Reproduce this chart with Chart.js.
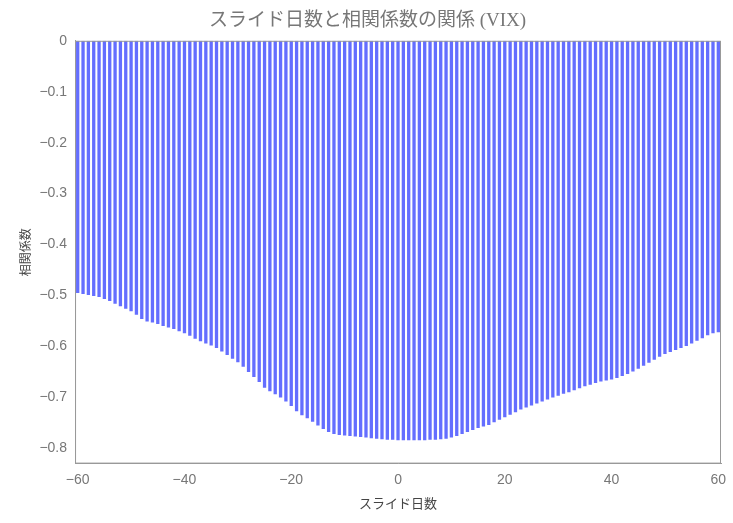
<!DOCTYPE html>
<html><head><meta charset="utf-8">
<script src="https://cdn.jsdelivr.net/npm/chart.js@4"></script>
<style>html,body{margin:0;padding:0;background:#fff}#w{width:733px;height:523px}</style>
</head><body><div id="w"><canvas id="c"></canvas></div>
<script>
const slideDays = [];
for (let d = -60; d <= 60; d++) slideDays.push(d);
const correlation = [
-0.495,-0.497,-0.499,-0.501,-0.503,-0.507,-0.511,-0.516,-0.521,-0.526,
-0.531,-0.538,-0.546,-0.551,-0.553,-0.556,-0.560,-0.563,-0.566,-0.570,
-0.574,-0.579,-0.585,-0.590,-0.594,-0.598,-0.603,-0.610,-0.617,-0.624,
-0.631,-0.640,-0.650,-0.660,-0.670,-0.681,-0.688,-0.694,-0.700,-0.708,
-0.717,-0.727,-0.735,-0.741,-0.748,-0.755,-0.762,-0.768,-0.772,-0.774,
-0.775,-0.776,-0.777,-0.778,-0.779,-0.780,-0.781,-0.782,-0.783,-0.783,
-0.784,-0.784,-0.784,-0.784,-0.784,-0.784,-0.783,-0.783,-0.782,-0.781,
-0.779,-0.776,-0.772,-0.768,-0.764,-0.760,-0.757,-0.754,-0.749,-0.744,
-0.739,-0.734,-0.729,-0.724,-0.720,-0.716,-0.712,-0.708,-0.704,-0.700,
-0.697,-0.693,-0.690,-0.686,-0.682,-0.678,-0.675,-0.672,-0.669,-0.667,
-0.665,-0.662,-0.658,-0.654,-0.649,-0.644,-0.638,-0.632,-0.626,-0.620,
-0.615,-0.611,-0.607,-0.603,-0.599,-0.594,-0.589,-0.584,-0.578,-0.574,
-0.572];
const fmt = v => v === 0 ? '0' : ('\u2212' + Math.abs(v).toFixed(1));
const tc = '#777';
const frame = { id: 'frame', afterDraw(ch) { const a = ch.chartArea, c = ch.ctx; c.save(); c.strokeStyle = '#999'; c.lineWidth = 1; c.strokeRect(a.left + 0.5, a.top + 0.5, a.right - a.left - 1, a.bottom - a.top - 1); c.restore(); } };
new Chart(document.getElementById('c'), {
  type: 'bar',
  data: { labels: slideDays, datasets: [{ data: correlation, backgroundColor: 'rgb(100,110,255)', barPercentage: 0.62, categoryPercentage: 1 }] },
  plugins: [frame],
  options: {
    responsive: true, maintainAspectRatio: false, animation: false,
    layout: { padding: { left: 14, right: 12, top: 4, bottom: 8 } },
    plugins: { legend: { display: false }, tooltip: { enabled: false },
      title: { display: true, text: 'スライド日数と相関係数の関係 (VIX)', color: '#777',
        font: { family: 'Liberation Serif, Noto Sans CJK JP', size: 19, weight: 'normal' }, padding: { top: 6, bottom: 8 } } },
    scales: {
      x: { grid: { display: false, tickLength: 5 }, border: { color: '#999' },
        ticks: { color: tc, autoSkip: false, maxRotation: 0, font: { size: 14 },
          callback: function(v, i) { const d = slideDays[i]; return d % 20 === 0 ? (d < 0 ? '\u2212' + (-d) : String(d)) : null; } },
        title: { display: true, text: 'スライド日数', color: '#444', font: { family: 'Noto Sans CJK JP', size: 13 } } },
      y: { min: -0.83, max: 0, grid: { display: false, tickLength: 5 }, border: { color: '#999' },
        ticks: { color: tc, font: { size: 14 }, callback: v => fmt(Math.round(v * 10) / 10) },
        afterBuildTicks: a => { a.ticks = [0,-0.1,-0.2,-0.3,-0.4,-0.5,-0.6,-0.7,-0.8].map(v => ({ value: v })); },
        title: { display: true, text: '相関係数', color: '#444', font: { family: 'Noto Sans CJK JP', size: 12 } } }
    }
  }
});
</script></body></html>
